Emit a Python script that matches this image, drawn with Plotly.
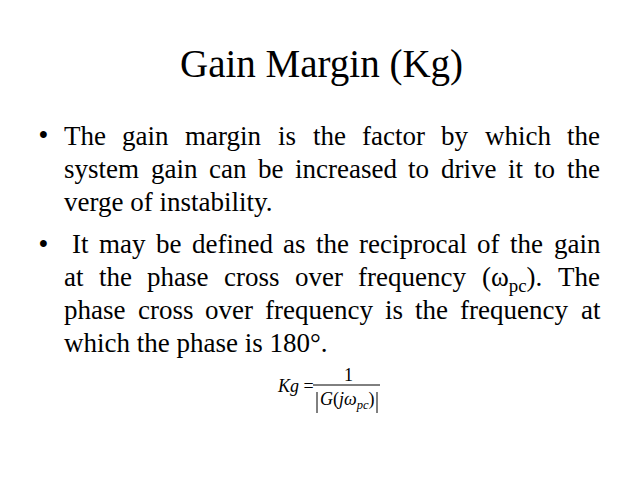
import re
import plotly.graph_objects as go

W, H = 638, 478
PAGE_OFFSET = 8  # default body margin of the page the figure sits in
FONT = "Liberation Serif, Times New Roman, serif"

# slide text
TITLE = "Gain Margin (Kg)"
BULLET_1 = [
    "The gain margin is the factor by which the",
    "system gain can be increased to drive it to the",
    "verge of instability.",
]
BULLET_2 = [
    "It may be defined as the reciprocal of the gain",
    "at the phase cross over frequency (ω<sub>pc</sub>). The",
    "phase cross over frequency is the frequency at",
    "which the phase is 180°.",
]
FORMULA_LHS = "<i>Kg</i> ="
FORMULA_NUM = "1"
FORMULA_DEN = "<i>G</i>(<i>jω</i><sub><i>pc</i></sub>)"

# Times / Liberation Serif advance widths (em)
ADV = dict(zip("abcdefghijklmnopqrstuvwxyz",
               [.444, .5, .444, .5, .444, .333, .5, .5, .278, .278, .5, .278, .778,
                .5, .5, .5, .5, .333, .389, .278, .5, .5, .722, .5, .5, .444]))
ADV.update({"T": .611, "I": .333, "(": .333, ")": .333, ".": .25, "ω": .686,
            "°": .4, "1": .5, "8": .5, "0": .5, " ": .25})


def word_width(word, size):
    w = 0
    for part in re.split(r"(<sub>.*?</sub>)", word):
        scale = 0.7 if part.startswith("<sub>") else 1.0
        txt = re.sub(r"<.*?>", "", part)
        w += sum(ADV.get(c, .5) for c in txt) * scale
    return w * size


annotations = []
shapes = []


def text(x, y, s, size, xanchor="left"):
    annotations.append(dict(x=x, y=y, text=s, showarrow=False, xref="x", yref="y",
                            xanchor=xanchor, yanchor="top",
                            font=dict(family=FONT, size=size, color="black")))


def top_of(baseline, size):
    return baseline - 0.891 * size - 1


def place_line(line, x0, x1, baseline, size, justify):
    words = line.split(" ")
    y = top_of(baseline, size)
    if not justify or len(words) < 2:
        text(x0, y, line, size)
        return
    widths = [word_width(w, size) for w in words]
    gap = (x1 - x0 - sum(widths)) / (len(words) - 1)
    x = x0
    for w, wd in zip(words, widths):
        text(x, y, w, size)
        x += wd + gap


BODY = 27
text(321, top_of(76, 39), TITLE, 39, xanchor="center")

for bullet_y, lines, baselines, first_x in [
    (134, BULLET_1, [144, 177, 210], 62),
    (243, BULLET_2, [252, 285, 318, 351], 70),
]:
    annotations.append(dict(x=43, y=bullet_y, text="•", showarrow=False, xref="x", yref="y",
                            xanchor="center", yanchor="middle",
                            font=dict(family="Liberation Sans, Arial", size=25, color="black")))
    for i, (ln, bl) in enumerate(zip(lines, baselines)):
        x0 = first_x if i == 0 else 62
        place_line(ln, x0, 598, bl, BODY, justify=(i < len(lines) - 1))

# formula
text(316, top_of(391, 18), FORMULA_LHS, 18, xanchor="right")
text(348, top_of(380, 18), FORMULA_NUM, 18, xanchor="center")
text(347, top_of(404, 18), FORMULA_DEN, 18, xanchor="center")
line_style = dict(color="black", width=1)
shapes.append(dict(type="line", xref="x", yref="y", x0=313, x1=380, y0=385, y1=385, line=line_style))
for bx in (317, 377):
    shapes.append(dict(type="line", xref="x", yref="y", x0=bx, x1=bx, y0=392, y1=413, line=line_style))

fig = go.Figure()
fig.update_layout(
    width=W, height=H,
    margin=dict(l=0, r=0, t=0, b=0),
    paper_bgcolor="white", plot_bgcolor="white",
    xaxis=dict(range=[PAGE_OFFSET, W + PAGE_OFFSET], visible=False, fixedrange=True),
    yaxis=dict(range=[H + PAGE_OFFSET, PAGE_OFFSET], visible=False, fixedrange=True),
    annotations=annotations,
    shapes=shapes,
    showlegend=False,
)
fig.write_html("out.html")
